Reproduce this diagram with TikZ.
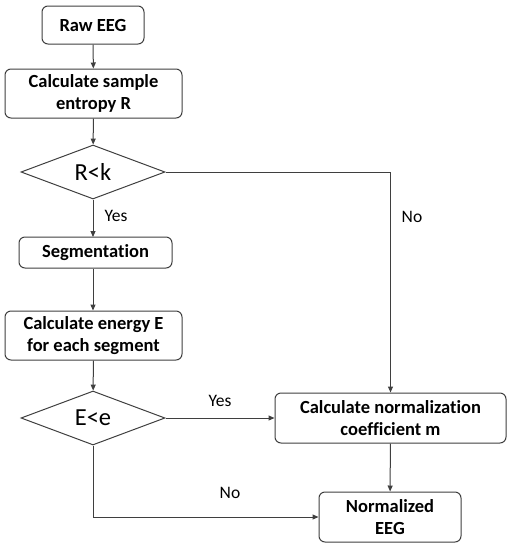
\documentclass[tikz,border=0pt]{standalone}
\usepackage{fontspec}
\setmainfont{Carlito}[Ligatures=NoCommon]
\usetikzlibrary{shapes.geometric,arrows.meta}
\definecolor{ln}{HTML}{3F3F3F}
\begin{document}
\begin{tikzpicture}[x=1pt,y=-1pt,
  box/.style={draw=ln,line width=1pt,rounded corners=6pt,align=center,font=\fontsize{18.5}{22}\selectfont\bfseries,inner sep=0pt},
  dec/.style={draw=ln,line width=1pt,diamond,aspect=2.67,inner sep=0pt,minimum width=144pt,minimum height=54pt,font=\fontsize{24.5}{28}\selectfont},
  lab/.style={font=\fontsize{17.5}{21}\selectfont,text=black},
  arr/.style={draw=ln,line width=1pt,-{Triangle[length=6pt,width=5pt]}}]
\useasboundingbox (0,0) rectangle (511,550);
\node[box,minimum width=102pt,minimum height=38pt] (raw) at (93,25) {Raw EEG};
\node[box,minimum width=177pt,minimum height=49pt] (se) at (93.5,93.5) {Calculate sample\\entropy R};
\node[dec] (rk) at (93,172) {R<k};
\node[box,minimum width=153pt,minimum height=31pt] (seg) at (95.5,252.5) {Segmentation};
\node[box,minimum width=177pt,minimum height=49pt] (en) at (93.5,335.5) {Calculate energy E\\for each segment};
\node[dec] (ee) at (93,418) {E<e};
\node[box,minimum width=231pt,minimum height=50pt] (nc) at (390.5,418) {Calculate normalization\\coefficient m};
\node[box,minimum width=142pt,minimum height=50pt] (ne) at (390,517) {Normalized\\EEG};
\draw[arr] (raw) -- (se);
\draw[arr] (se) -- (rk);
\draw[arr] (rk.south) -- (93,237);
\draw[arr] (seg.south -| 93,0) -- (en.north -| 93,0);
\draw[arr] (en) -- (ee);
\draw[arr] (ee.east) -- (nc.west);
\draw[arr] (rk.east) -| (nc.north);
\draw[arr] (nc) -- (ne);
\draw[arr] (ee.south) |- (ne.west);
\node[lab] (y1) at (116,216) {Yes};
\node[lab] (n1) at (412,217) {No};
\node[lab] (y2) at (220,401) {Yes};
\node[lab] (n2) at (230,493) {No};
\end{tikzpicture}
\end{document}
